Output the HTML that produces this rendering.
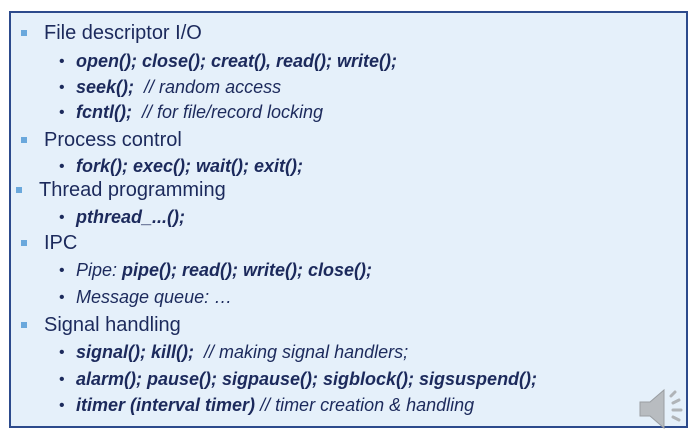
<!DOCTYPE html>
<html><head><style>
body{margin:0;width:693px;height:430px;background:#fff;position:relative;overflow:hidden;font-family:"Liberation Sans",Arial,sans-serif;color:#1c2a5c}
.box{position:absolute;left:9px;top:11px;width:675px;height:413px;border:2px solid #2c4a8c;background:#e5f0fa}
.l{position:absolute;white-space:nowrap;line-height:20px}
.m{font-size:20px;left:44px}
.m:before{content:"";position:absolute;left:-23px;top:7px;width:6px;height:6px;background:#6aa8dc}
.s{font-size:18px;left:76px;font-style:italic}
.s:before{content:"•";position:absolute;left:-17px;top:1px;font-style:normal;font-size:16px}
b{font-weight:bold}
</style></head><body>
<div class="box"></div>
<div class="l m" style="top:23px">File descriptor I/O</div>
<div class="l s" style="top:51px"><b>open(); close(); creat(), read(); write();</b></div>
<div class="l s" style="top:77px"><b>seek();</b>&nbsp; // random access</div>
<div class="l s" style="top:102px"><b>fcntl();</b>&nbsp; // for file/record locking</div>
<div class="l m" style="top:130px">Process control</div>
<div class="l s" style="top:156px"><b>fork(); exec(); wait(); exit();</b></div>
<div class="l m" style="top:180px;left:39px">Thread programming</div>
<div class="l s" style="top:207px"><b>pthread_...();</b></div>
<div class="l m" style="top:233px">IPC</div>
<div class="l s" style="top:260px">Pipe: <b>pipe(); read(); write(); close();</b></div>
<div class="l s" style="top:287px">Message queue: …</div>
<div class="l m" style="top:315px">Signal handling</div>
<div class="l s" style="top:342px"><b>signal(); kill();</b>&nbsp; // making signal handlers;</div>
<div class="l s" style="top:369px"><b>alarm(); pause(); sigpause(); sigblock(); sigsuspend();</b></div>
<div class="l s" style="top:395px"><b>itimer (interval timer)</b> // timer creation &amp; handling</div>
<svg style="position:absolute;left:638px;top:388px" width="50" height="42">
<polygon points="2,14 12,14 26,2 26,40 12,28 2,28" fill="#b8bcc0" stroke="#9a9ea2"/>
<g stroke="#b0b4b8" stroke-width="3" stroke-linecap="round">
<line x1="33" y1="8" x2="37" y2="4"/><line x1="35" y1="15" x2="41" y2="12"/>
<line x1="35" y1="22" x2="43" y2="22"/><line x1="35" y1="29" x2="41" y2="32"/>
</g></svg>
</body></html>
